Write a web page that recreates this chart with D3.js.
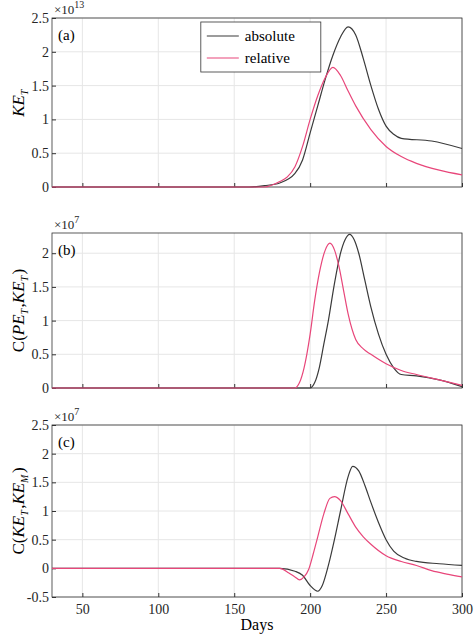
<!DOCTYPE html>
<html><head><meta charset="utf-8">
<script src="https://cdn.jsdelivr.net/npm/d3@7"></script>
<style>body{margin:0;background:#fff}svg text{font-family:"Liberation Serif","DejaVu Serif",serif !important}</style>
</head><body><svg id="c" width="474" height="635"></svg>
<script>
// [day, value]
const absA = [[30,0],[160,0],[170,0.02],[180,0.06],[190,0.2],[195,0.4],[200,0.8],[205,1.2],[210,1.6],[215,1.95],[220,2.22],[225,2.37],[230,2.25],[235,1.9],[240,1.5],[245,1.15],[250,0.9],[255,0.78],[260,0.72],[280,0.68],[300,0.57]];
const relA = [[30,0],[170,0],[180,0.08],[185,0.15],[190,0.3],[195,0.6],[200,1.0],[205,1.35],[210,1.62],[215,1.77],[220,1.65],[225,1.42],[230,1.2],[240,0.85],[250,0.6],[260,0.45],[270,0.35],[285,0.25],[300,0.18]];
const absB = [[30,0],[200,0],[203,0.08],[206,0.3],[209,0.65],[212,1.0],[216,1.55],[220,2.0],[223,2.2],[226,2.28],[229,2.2],[232,2.0],[236,1.6],[240,1.2],[245,0.8],[250,0.5],[255,0.3],[260,0.2],[270,0.18],[285,0.12],[300,0.02]];
const relB = [[30,0],[190,0],[193,0.08],[196,0.3],[200,0.8],[203,1.3],[206,1.7],[210,2.05],[213,2.15],[216,2.05],[219,1.8],[222,1.45],[225,1.1],[230,0.72],[235,0.58],[240,0.5],[250,0.36],[260,0.26],[270,0.2],[285,0.12],[300,0.04]];
const absC = [[30,0],[180,0],[190,-0.05],[195,-0.12],[200,-0.3],[205,-0.4],[208,-0.3],[212,0.05],[216,0.5],[220,1.0],[225,1.6],[228,1.78],[232,1.7],[236,1.45],[240,1.15],[245,0.8],[250,0.5],[255,0.3],[262,0.18],[270,0.12],[285,0.08],[300,0.05]];
const relC = [[30,0],[180,0],[186,-0.08],[190,-0.15],[193,-0.2],[196,-0.15],[199,-0.02],[202,0.25],[205,0.55],[209,0.95],[213,1.22],[216,1.25],[220,1.18],[225,0.95],[230,0.72],[235,0.55],[240,0.42],[250,0.22],[260,0.12],[270,0.05],[280,-0.04],[290,-0.1],[300,-0.15]];
const xTicks = [50,100,150,200,250,300];

const panels = [
  {top:18, bottom:187, dom:[0,2.5], ticks:[0,0.5,1,1.5,2,2.5], exp:"13", tag:"(a)", abs:absA, rel:relA, label:[["KE","T"]], legend:true},
  {top:233, bottom:388, dom:[0,2.3], ticks:[0,0.5,1,1.5,2], exp:"7", tag:"(b)", abs:absB, rel:relB, label:["C(",["PE","T"],",",["KE","T"],")"]},
  {top:425, bottom:597, dom:[-0.5,2.5], ticks:[-0.5,0,0.5,1,1.5,2,2.5], exp:"7", tag:"(c)", abs:absC, rel:relC, label:["C(",["KE","T"],",",["KE","M"],")"]}
];
const left = 52, right = 462;
const svg = d3.select("#c");
const x = d3.scaleLinear().domain([30,300]).range([left,right]);
const fmt = d => d===0 ? "0" : String(d);

panels.forEach((p,i) => {
  const y = d3.scaleLinear().domain(p.dom).range([p.bottom,p.top]);
  const g = svg.append("g");
  g.append("g").selectAll("line").data(xTicks).join("line")
    .attr("x1",x).attr("x2",x).attr("y1",p.top).attr("y2",p.bottom).attr("stroke","#e6e6e6");
  g.append("g").selectAll("line").data(p.ticks).join("line")
    .attr("y1",y).attr("y2",y).attr("x1",left).attr("x2",right).attr("stroke","#e6e6e6");
  const ax = g.append("g").attr("transform",`translate(0,${p.bottom})`)
    .call(d3.axisBottom(x).tickValues(xTicks).tickSize(-4).tickFormat(i===2?d3.format("d"):""));
  const ay = g.append("g").attr("transform",`translate(${left},0)`)
    .call(d3.axisLeft(y).tickValues(p.ticks).tickSize(-4).tickFormat(fmt));
  [ax,ay].forEach(a => {
    a.attr("font-family",null);
    a.select(".domain").remove();
    a.selectAll("line").attr("stroke","#333");
    a.selectAll("text").attr("font-size",14).attr("fill","#262626");
  });
  ax.selectAll("text").attr("dy","1.0em");
  g.append("rect").attr("x",left).attr("y",p.top).attr("width",right-left).attr("height",p.bottom-p.top)
    .attr("fill","none").attr("stroke","#333").attr("stroke-width",0.8);
  const line = d3.line().curve(d3.curveMonotoneX).x(d=>x(d[0])).y(d=>y(d[1]));
  g.append("path").datum(p.abs).attr("d",line).attr("fill","none").attr("stroke","#3a3a3a").attr("stroke-width",1.2);
  g.append("path").datum(p.rel).attr("d",line).attr("fill","none").attr("stroke","#e8467a").attr("stroke-width",1.2);
  g.append("text").attr("x",left+6).attr("y",p.top+22).attr("font-size",15).text(p.tag);
  const e = g.append("text").attr("x",left+2).attr("y",p.top-4).attr("font-size",13).attr("fill","#262626");
  e.append("tspan").text("×10");
  e.append("tspan").attr("dy",-6).attr("font-size",10).text(p.exp);
  const lab = g.append("text").attr("transform",`translate(24,${(p.top+p.bottom)/2}) rotate(-90)`)
    .attr("text-anchor","middle").attr("font-size",17);
  p.label.forEach(s => {
    if (Array.isArray(s)) {
      lab.append("tspan").attr("font-style","italic").text(s[0]);
      lab.append("tspan").attr("font-size",10).attr("dy",4).attr("font-style","italic").text(s[1]);
      lab.append("tspan").attr("dy",-4).text("\u200a");
    } else lab.append("tspan").text(s);
  });
  if (p.legend) {
    const lg = g.append("g").attr("transform",`translate(${x(128)},${p.top+4})`);
    lg.append("rect").attr("width",120).attr("height",50).attr("fill","#fff").attr("stroke","#333").attr("stroke-width",0.8);
    [["absolute","#3a3a3a"],["relative","#e8467a"]].forEach(([t,c],k) => {
      lg.append("line").attr("x1",6).attr("x2",38).attr("y1",14+k*22).attr("y2",14+k*22).attr("stroke",c).attr("stroke-width",1.2);
      lg.append("text").attr("x",44).attr("y",19+k*22).attr("font-size",15).text(t);
    });
  }
});
svg.append("text").attr("x",(left+right)/2).attr("y",630).attr("text-anchor","middle").attr("font-size",16).text("Days");
</script></body></html>
